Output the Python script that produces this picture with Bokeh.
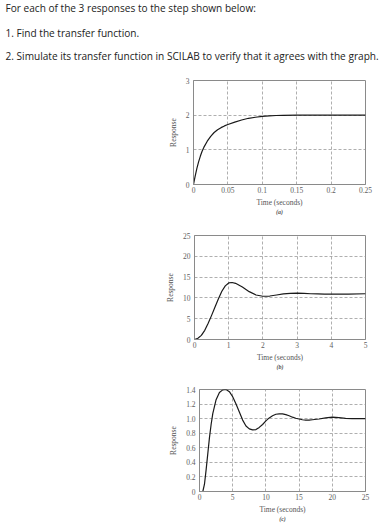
from bokeh.plotting import figure
from bokeh.layouts import column
from bokeh.models import Range1d, Label, Title, FixedTicker
from bokeh.embed import file_html
from bokeh.resources import INLINE

# ---------------- data ----------------
header_lines = [
    "For each of the 3 responses to the step shown below:",
    "1. Find the transfer function.",
    "2. Simulate its transfer function in SCILAB to verify that it agrees with the graph.",
]

ta = [0, 0.0025, 0.005, 0.0075, 0.01, 0.0125, 0.015, 0.02, 0.025, 0.03, 0.035, 0.04, 0.045, 0.05,
      0.06, 0.07, 0.08, 0.09, 0.1, 0.11, 0.12, 0.13, 0.15, 0.2, 0.25]
ya = [0, 0.25, 0.47, 0.66, 0.82, 0.96, 1.07, 1.25, 1.39, 1.5, 1.58, 1.64, 1.69, 1.73,
      1.8, 1.86, 1.91, 1.94, 1.965, 1.98, 1.99, 1.995, 2.0, 2.0, 2.0]
xticks_a = [0, 0.05, 0.1, 0.15, 0.2, 0.25]
xlabels_a = ["0", "0.05", "0.1", "0.15", "0.2", "0.25"]
yticks_a = [0, 1, 2, 3]

tb = [0, 0.1, 0.2, 0.3, 0.4, 0.5, 0.6, 0.7, 0.8, 0.9, 1.0, 1.1, 1.2, 1.4, 1.6, 1.8, 2.0, 2.2,
      2.4, 2.6, 2.8, 3.0, 3.2, 3.4, 3.6, 3.8, 4.0, 4.5, 5.0]
yb = [0, 0.3, 1.0, 2.2, 3.9, 5.8, 7.8, 9.8, 11.6, 12.9, 13.6, 13.7, 13.5, 12.6, 11.5, 10.7, 10.4,
      10.45, 10.7, 10.95, 11.1, 11.15, 11.1, 11.0, 10.95, 10.9, 10.9, 10.9, 11.0]
xticks_b = [0, 1, 2, 3, 4, 5]
yticks_b = [0, 5, 10, 15, 20, 25]

tc = [0, 0.4, 0.5, 0.75, 1.0, 1.25, 1.5, 1.75, 2.0, 2.5, 3.0, 3.5, 4.0, 4.5, 5.0, 5.5, 6.0, 6.5,
      7.0, 7.5, 8.0, 8.5, 9.0, 9.5, 10, 10.5, 11, 11.5, 12, 12.5, 13, 13.5, 14, 14.5, 15, 15.5,
      16, 16.5, 17, 18, 19, 20, 21, 22, 23, 24, 25]
yc = [0, 0, 0.0, 0.1, 0.3, 0.52, 0.74, 0.92, 1.07, 1.26, 1.36, 1.395, 1.40, 1.37, 1.30, 1.2,
      1.09, 0.98, 0.9, 0.86, 0.845, 0.85, 0.88, 0.92, 0.97, 1.01, 1.04, 1.06, 1.065, 1.065,
      1.055, 1.04, 1.02, 1.005, 0.995, 0.985, 0.98, 0.98, 0.985, 0.995, 1.01, 1.02, 1.015,
      1.005, 1.0, 1.0, 1.0]
xticks_c = [0, 5, 10, 15, 20, 25]
yticks_c = [0, 0.2, 0.4, 0.6, 0.8, 1.0, 1.2, 1.4]
ylabels_c = ["0", "0.2", "0.4", "0.6", "0.8", "1.0", "1.2", "1.4"]

# ---------------- header ----------------
header = figure(width=392, height=70, x_range=Range1d(0, 392), y_range=Range1d(70, 0),
                min_border=0, outline_line_color=None, toolbar_location=None,
                x_axis_location=None, y_axis_location=None, output_backend="svg",
                frame_align=False)
header.grid.visible = False
for txt, yy in zip(header_lines, [7.5, 32.5, 55.5]):
    header.add_layout(Label(x=5, y=yy, text=txt, text_font="Open Sans", text_font_size="10.1px",
                            text_color="#222222", text_baseline="middle", text_align="left"))

SERIF = "Liberation Serif"
GRAY = "#8a8a8a"
LBL = "#5e5e5e"


def make_plot(t, y, xr, yr, xt, yt, cap, fl, fw, fh, top, bottom, xlab=None, ylab=None):
    p = figure(frame_width=fw, frame_height=fh, min_border_left=fl, min_border_right=27,
               min_border_top=top, min_border_bottom=bottom,
               x_range=Range1d(*xr), y_range=Range1d(*yr), frame_align=False,
               toolbar_location=None, output_backend="svg")
    p.line(t, y, line_color="#1a1a1a", line_width=1.2)
    p.outline_line_color = GRAY
    p.outline_line_width = 1
    p.xaxis.ticker = FixedTicker(ticks=xt)
    p.yaxis.ticker = FixedTicker(ticks=yt)
    if xlab:
        p.xaxis.major_label_overrides = xlab
    if ylab:
        p.yaxis.major_label_overrides = ylab
    for ax in (p.xaxis[0], p.yaxis[0]):
        ax.axis_line_color = GRAY
        ax.major_tick_line_color = None
        ax.minor_tick_line_color = None
        ax.major_tick_out = 0
        ax.major_tick_in = 0
        ax.major_label_text_font = SERIF
        ax.major_label_text_font_size = "7.5px"
        ax.major_label_text_color = LBL
        ax.axis_label_text_font = SERIF
        ax.axis_label_text_font_size = "7.5px"
        ax.axis_label_text_color = "#555555"
        ax.axis_label_text_font_style = "normal"
    p.xaxis.major_label_standoff = 2
    p.yaxis.major_label_standoff = 4
    p.xaxis.axis_label = "Time (seconds)"
    p.xaxis.axis_label_standoff = 2
    p.yaxis.axis_label = "Response"
    p.yaxis.axis_label_standoff = 5
    p.grid.grid_line_color = "#9a9a9a"
    p.grid.grid_line_dash = "3 2"
    p.grid.grid_line_width = 0.8
    p.add_layout(Title(text=cap, align="center", text_font=SERIF, text_font_size="6px",
                       text_font_style="bold italic", text_color="#555555", standoff=-5,
                       offset=0), "below")
    return p


pa = make_plot(ta, ya, (0, 0.25), (0, 3), xticks_a, yticks_a, "(a)", 193, 172, 104, 10, 41,
               xlab={v: s for v, s in zip(xticks_a, xlabels_a)})
pb = make_plot(tb, yb, (0, 5), (0, 25), xticks_b, yticks_b, "(b)", 194, 171, 104, 10, 41)
pc = make_plot(tc, yc, (0, 25), (0, 1.4), xticks_c, yticks_c, "(c)", 199, 166, 102, 9, 34,
               ylab={v: s for v, s in zip(yticks_c, ylabels_c)})

layout = column(header, pa, pb, pc, spacing=0)
open("out.html", "w").write(file_html(layout, INLINE))
